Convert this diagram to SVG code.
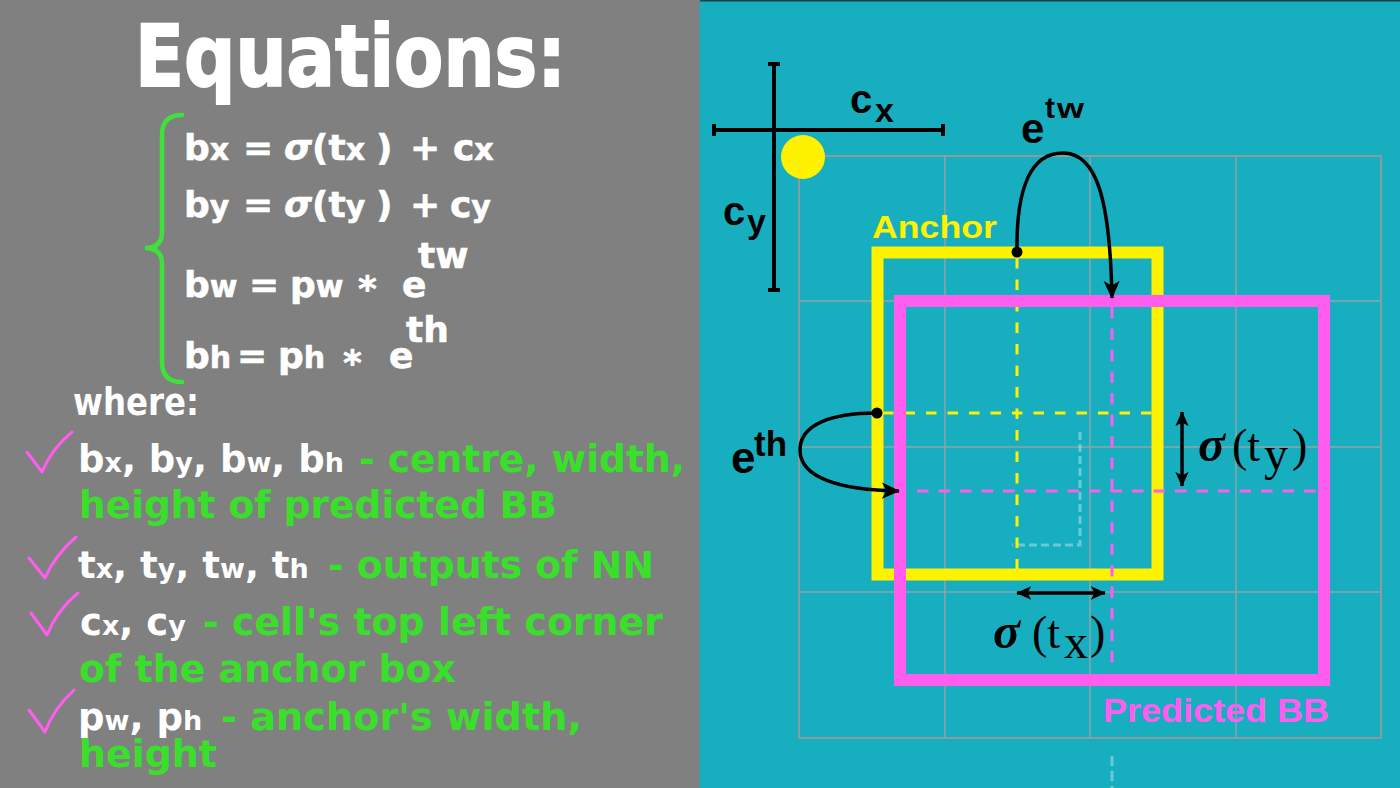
<svg xmlns="http://www.w3.org/2000/svg" width="1400" height="788" viewBox="0 0 1400 788">
<defs>
<style>
.ttl{font-family:"DejaVu Sans",sans-serif;font-weight:bold;fill:#fff;stroke:#fff;stroke-width:2}
.eq{font-family:"DejaVu Sans",sans-serif;font-weight:bold;fill:#fff;font-size:36px;stroke:#fff;stroke-width:0.6}
.sb{font-size:30px}
.lw{font-family:"DejaVu Sans",sans-serif;font-weight:bold;fill:#fff;font-size:37px}
.ls{font-size:27px}
.gr{font-family:"DejaVu Sans",sans-serif;font-weight:bold;fill:#3ADF2C;font-size:37px}
.chk{fill:none;stroke:#FF5CF0;stroke-width:3;stroke-linecap:round;stroke-linejoin:round}
.ar{font-family:"Liberation Sans",Arial,sans-serif;font-weight:bold}
.sr{font-family:"Liberation Serif","Times New Roman",serif;fill:#000}
.grid{stroke:#8fa5aa;stroke-width:1.5;fill:none}
.ydash{stroke:#FFF200;stroke-width:3;stroke-dasharray:10.5 11;fill:none}
.mdash{stroke:#FF5CF0;stroke-width:3;stroke-dasharray:11.5 10;fill:none}
.conn{fill:none;stroke:#000;stroke-width:3.5}
.axis{stroke:#000;stroke-width:4;fill:none}
</style>
<marker id="ah" viewBox="0 0 20 20" refX="19" refY="10" markerWidth="18" markerHeight="18" markerUnits="userSpaceOnUse" orient="auto-start-reverse">
<path d="M0,1 L20,10 L0,19 L5,10 Z" fill="#000"/>
</marker>
<marker id="ahs" viewBox="0 0 20 20" refX="19" refY="10" markerWidth="15" markerHeight="15" markerUnits="userSpaceOnUse" orient="auto-start-reverse">
<path d="M0,1 L20,10 L0,19 L5,10 Z" fill="#000"/>
</marker>
</defs>

<!-- backgrounds -->
<rect x="0" y="0" width="700" height="788" fill="#808080"/>
<rect x="699.5" y="0" width="700.5" height="788" fill="#17AEBF"/>
<line x1="700" y1="0.7" x2="1400" y2="0.7" stroke="#1b3f45" stroke-width="1.5"/>

<!-- left panel -->
<g id="title">
<text class="ttl" x="135" y="86" font-size="86" textLength="431" lengthAdjust="spacingAndGlyphs">Equations:</text>
</g>

<g id="equations">
<path d="M182,115 Q162,115 162,135 L162,232 Q162,248 145,248 Q162,248 162,264 L162,362 Q162,382 182,382" fill="none" stroke="#3EE23A" stroke-width="4.5" stroke-linecap="round"/>
<text class="eq" y="160"><tspan x="184">b</tspan><tspan class="sb">x</tspan><tspan x="243">=</tspan><tspan x="284" font-style="italic">σ</tspan><tspan x="312">(t</tspan><tspan class="sb">x</tspan><tspan x="376">)</tspan><tspan x="410">+</tspan><tspan x="453">c</tspan><tspan class="sb">x</tspan></text>
<text class="eq" y="217"><tspan x="184">b</tspan><tspan class="sb">y</tspan><tspan x="243">=</tspan><tspan x="284" font-style="italic">σ</tspan><tspan x="312">(t</tspan><tspan class="sb">y</tspan><tspan x="376">)</tspan><tspan x="410">+</tspan><tspan x="450">c</tspan><tspan class="sb">y</tspan></text>
<text class="eq" y="297"><tspan x="184">b</tspan><tspan class="sb">w</tspan><tspan x="249">=</tspan><tspan x="290">p</tspan><tspan class="sb">w</tspan><tspan x="402">e</tspan></text>
<text class="eq" x="358" y="301" font-size="52">*</text>
<text class="eq" x="418" y="268" font-size="26">tw</text>
<text class="eq" y="368"><tspan x="184">b</tspan><tspan class="sb" font-size="28">h</tspan><tspan x="237">=</tspan><tspan x="278">p</tspan><tspan class="sb" font-size="28">h</tspan><tspan x="389">e</tspan></text>
<text class="eq" x="343" y="375" font-size="52">*</text>
<text class="eq" x="406" y="342" font-size="26">th</text>
</g>

<g id="where">
<text class="lw" x="73" y="415" font-size="31" textLength="126" lengthAdjust="spacingAndGlyphs">where:</text>
</g>

<g id="item1">
<path class="chk" d="M27,452 L42,472 Q52,448 72,432"/>
<text class="lw" x="78" y="472">b<tspan class="ls">x</tspan>, b<tspan class="ls">y</tspan>, b<tspan class="ls">w</tspan>, b<tspan class="ls">h</tspan></text>
<text class="gr" x="359" y="472" textLength="326" lengthAdjust="spacingAndGlyphs">- centre, width,</text>
<text class="gr" x="79" y="518" textLength="478" lengthAdjust="spacingAndGlyphs">height of predicted BB</text>
</g>

<g id="item2">
<path class="chk" d="M29,558 L45,578 Q55,555 76,537"/>
<text class="lw" x="78" y="578">t<tspan class="ls">x</tspan>, t<tspan class="ls">y</tspan>, t<tspan class="ls">w</tspan>, t<tspan class="ls">h</tspan></text>
<text class="gr" x="328" y="578" textLength="326" lengthAdjust="spacingAndGlyphs">- outputs of NN</text>
</g>

<g id="item3">
<path class="chk" d="M31,613 L47,635 Q57,610 78,593"/>
<text class="lw" x="80" y="635">c<tspan class="ls">x</tspan>, c<tspan class="ls">y</tspan></text>
<text class="gr" x="203" y="635" textLength="460" lengthAdjust="spacingAndGlyphs">- cell's top left corner</text>
<text class="gr" x="79" y="682" textLength="377" lengthAdjust="spacingAndGlyphs">of the anchor box</text>
</g>

<g id="item4">
<path class="chk" d="M29,710 L45,732 Q54,708 74,690"/>
<text class="lw" x="78" y="730">p<tspan class="ls">w</tspan>, p<tspan class="ls">h</tspan></text>
<text class="gr" x="221" y="730" textLength="361" lengthAdjust="spacingAndGlyphs">- anchor's width,</text>
<text class="gr" x="79" y="767" textLength="138" lengthAdjust="spacingAndGlyphs">height</text>
</g>

<!-- right panel -->
<g id="grid">
<rect x="799" y="156" width="582" height="582" fill="none" stroke="#8a9a9e" stroke-width="2"/>
<path class="grid" d="M945,156 V738 M1090,156 V738 M1236,156 V738 M799,301 H1381 M799,447 H1381 M799,592 H1381"/>
</g>

<g id="faint" opacity="0.45">
<path d="M1080,432 V545 H1012" fill="none" stroke="#c8f0f5" stroke-width="3" stroke-dasharray="8 4"/>
<path d="M1112,756 V788" fill="none" stroke="#c8f0f5" stroke-width="3" stroke-dasharray="10 5"/>
</g>

<g id="axes">
<path class="axis" d="M774,64 V290 M768,64 H780 M768,290 H780"/>
<path class="axis" d="M714,130 H943 M714,124 V136 M943,124 V136"/>
<text class="ar" x="850" y="113" font-size="40" fill="#000">c</text>
<text class="ar" x="875" y="122" font-size="34" fill="#000">x</text>
<text class="ar" x="723" y="225" font-size="40" fill="#000">c</text>
<text class="ar" x="747" y="233" font-size="34" fill="#000">y</text>
</g>

<g id="cell-corner">
<circle cx="803" cy="157" r="22" fill="#FFF200"/>
</g>

<g id="anchor">
<rect x="877.5" y="252.5" width="280" height="322" fill="none" stroke="#FFF200" stroke-width="12"/>
<path class="ydash" d="M1017,258 V569"/>
<path class="ydash" d="M883,413 H1152"/>
<text class="ar" x="872" y="238" font-size="32" fill="#FFF200" textLength="125" lengthAdjust="spacingAndGlyphs">Anchor</text>
</g>

<g id="predicted">
<rect x="900" y="301" width="424" height="379" fill="none" stroke="#FF5CF0" stroke-width="12"/>
<path class="mdash" d="M1112,307 V665"/>
<path class="mdash" d="M917,491 H1318"/>
<text class="ar" x="1103" y="722" font-size="33" fill="#FF5CF0" textLength="226" lengthAdjust="spacingAndGlyphs">Predicted BB</text>
</g>

<g id="connectors">
<path class="conn" d="M1017,252 C1016,185 1032,153 1063,153 C1097,153 1110,200 1112,298" marker-end="url(#ah)"/>
<path class="conn" d="M877,413 C830,413 800,425 800,450 C800,478 840,490 899,491" marker-end="url(#ah)"/>
<line class="conn" x1="1182" y1="412" x2="1182" y2="486" stroke-width="3" marker-start="url(#ahs)" marker-end="url(#ahs)"/>
<line class="conn" x1="1017" y1="593" x2="1105" y2="593" stroke-width="3" marker-start="url(#ahs)" marker-end="url(#ahs)"/>
<circle cx="1017" cy="252" r="5.5" fill="#000"/>
<circle cx="877" cy="413" r="5.5" fill="#000"/>
</g>

<g id="labels">
<text class="ar" x="1021" y="143" font-size="42" fill="#000">e</text>
<text class="ar" x="1045" y="118" font-size="30" fill="#000">t</text>
<text class="ar" x="1057" y="118" font-size="27" fill="#000" textLength="27" lengthAdjust="spacingAndGlyphs">w</text>
<text class="ar" x="731" y="473" font-size="44" fill="#000">e</text>
<text class="ar" x="754" y="456" font-size="35" fill="#000">th</text>
<text class="sr" y="461"><tspan x="1198" font-size="50" font-weight="bold" font-style="italic">σ</tspan><tspan x="1232" font-size="46">(t</tspan><tspan x="1264" y="470" font-size="48">y</tspan><tspan x="1292" y="461" font-size="46">)</tspan></text>
<text class="sr" y="648"><tspan x="993" font-size="50" font-weight="bold" font-style="italic">σ</tspan><tspan x="1032" font-size="46">(t</tspan><tspan x="1064" y="658" font-size="48">x</tspan><tspan x="1090" y="648" font-size="46">)</tspan></text>
</g>
</svg>
